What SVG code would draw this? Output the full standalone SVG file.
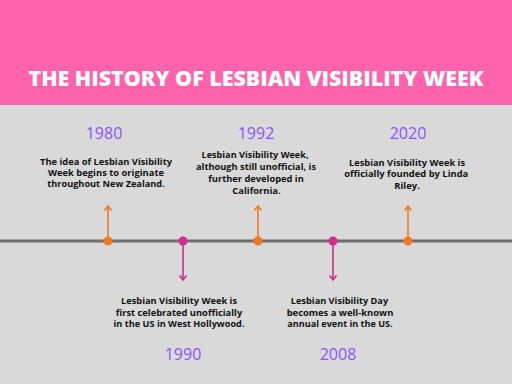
<svg xmlns="http://www.w3.org/2000/svg" width="512" height="384" viewBox="0 0 512 384">
<defs>
<style>
.title{font-family:"Open Sans","Liberation Sans",sans-serif;font-weight:800;font-size:21px;fill:#ffffff;text-anchor:middle}
.year{font-family:"Open Sans","Liberation Sans",sans-serif;font-weight:400;font-size:16px;fill:#8c52ff;text-anchor:middle}
.desc{font-family:"Open Sans","Liberation Sans",sans-serif;font-weight:700;font-size:8.7px;fill:#111111;text-anchor:middle}
.up{stroke:#f07a22;stroke-width:1.6;fill:none}
.down{stroke:#d62a8c;stroke-width:1.6;fill:none}
</style>
</defs>
<rect x="0" y="0" width="512" height="384" fill="#d9d9d9"/>
<rect x="0" y="0" width="512" height="105" fill="#ff63ae"/>
<text class="title" x="256" y="86" textLength="455" lengthAdjust="spacingAndGlyphs">THE HISTORY OF LESBIAN VISIBILITY WEEK</text>
<g id="connectors">
<line x1="0" y1="241" x2="512" y2="241" stroke="#6e6e6e" stroke-width="3.2"/>
<path class="up" d="M108,241 V206 M104.5,210.5 L108,206 L111.5,210.5"/>
<path class="down" d="M183,241 V280 M179.5,275.5 L183,280 L186.5,275.5"/>
<path class="up" d="M258,241 V206 M254.5,210.5 L258,206 L261.5,210.5"/>
<path class="down" d="M333,241 V280 M329.5,275.5 L333,280 L336.5,275.5"/>
<path class="up" d="M408,241 V206 M404.5,210.5 L408,206 L411.5,210.5"/>
</g>
<g id="n1980">
<circle cx="108" cy="241" r="4.5" fill="#f07a22"/>
<text class="year" x="104" y="139">1980</text>
<text class="desc" x="106" y="165" textLength="132" lengthAdjust="spacingAndGlyphs">The idea of Lesbian Visibility</text>
<text class="desc" x="106" y="176.2" textLength="116" lengthAdjust="spacingAndGlyphs">Week begins to originate</text>
<text class="desc" x="106" y="187.4" textLength="117.5" lengthAdjust="spacingAndGlyphs">throughout New Zealand.</text>
</g>
<g id="n1990">
<circle cx="183" cy="241" r="4.5" fill="#d62a8c"/>
<text class="year" x="183" y="360">1990</text>
<text class="desc" x="179" y="304" textLength="116" lengthAdjust="spacingAndGlyphs">Lesbian Visibility Week is</text>
<text class="desc" x="179" y="315.5" textLength="126.5" lengthAdjust="spacingAndGlyphs">first celebrated unofficially</text>
<text class="desc" x="179" y="327" textLength="131" lengthAdjust="spacingAndGlyphs">in the US in West Hollywood.</text>
</g>
<g id="n1992">
<circle cx="258" cy="241" r="4.5" fill="#f07a22"/>
<text class="year" x="256" y="139">1992</text>
<text class="desc" x="255" y="158" textLength="107" lengthAdjust="spacingAndGlyphs">Lesbian Visibility Week,</text>
<text class="desc" x="256" y="170" textLength="120" lengthAdjust="spacingAndGlyphs">although still unofficial, is</text>
<text class="desc" x="256" y="182" textLength="95.5" lengthAdjust="spacingAndGlyphs">further developed in</text>
<text class="desc" x="256.5" y="193.5" textLength="48.3" lengthAdjust="spacingAndGlyphs">California.</text>
</g>
<g id="n2008">
<circle cx="333" cy="241" r="4.5" fill="#d62a8c"/>
<text class="year" x="338" y="360">2008</text>
<text class="desc" x="339.5" y="304" textLength="97.3" lengthAdjust="spacingAndGlyphs">Lesbian Visibility Day</text>
<text class="desc" x="340" y="315.5" textLength="106.7" lengthAdjust="spacingAndGlyphs">becomes a well-known</text>
<text class="desc" x="340" y="327" textLength="105.3" lengthAdjust="spacingAndGlyphs">annual event in the US.</text>
</g>
<g id="n2020">
<circle cx="408" cy="241" r="4.5" fill="#f07a22"/>
<text class="year" x="408" y="139">2020</text>
<text class="desc" x="407" y="165.5" textLength="116" lengthAdjust="spacingAndGlyphs">Lesbian Visibility Week is</text>
<text class="desc" x="406.3" y="177" textLength="124" lengthAdjust="spacingAndGlyphs">officially founded by Linda</text>
<text class="desc" x="407" y="188.5" textLength="25.7" lengthAdjust="spacingAndGlyphs">Riley.</text>
</g>
</svg>
